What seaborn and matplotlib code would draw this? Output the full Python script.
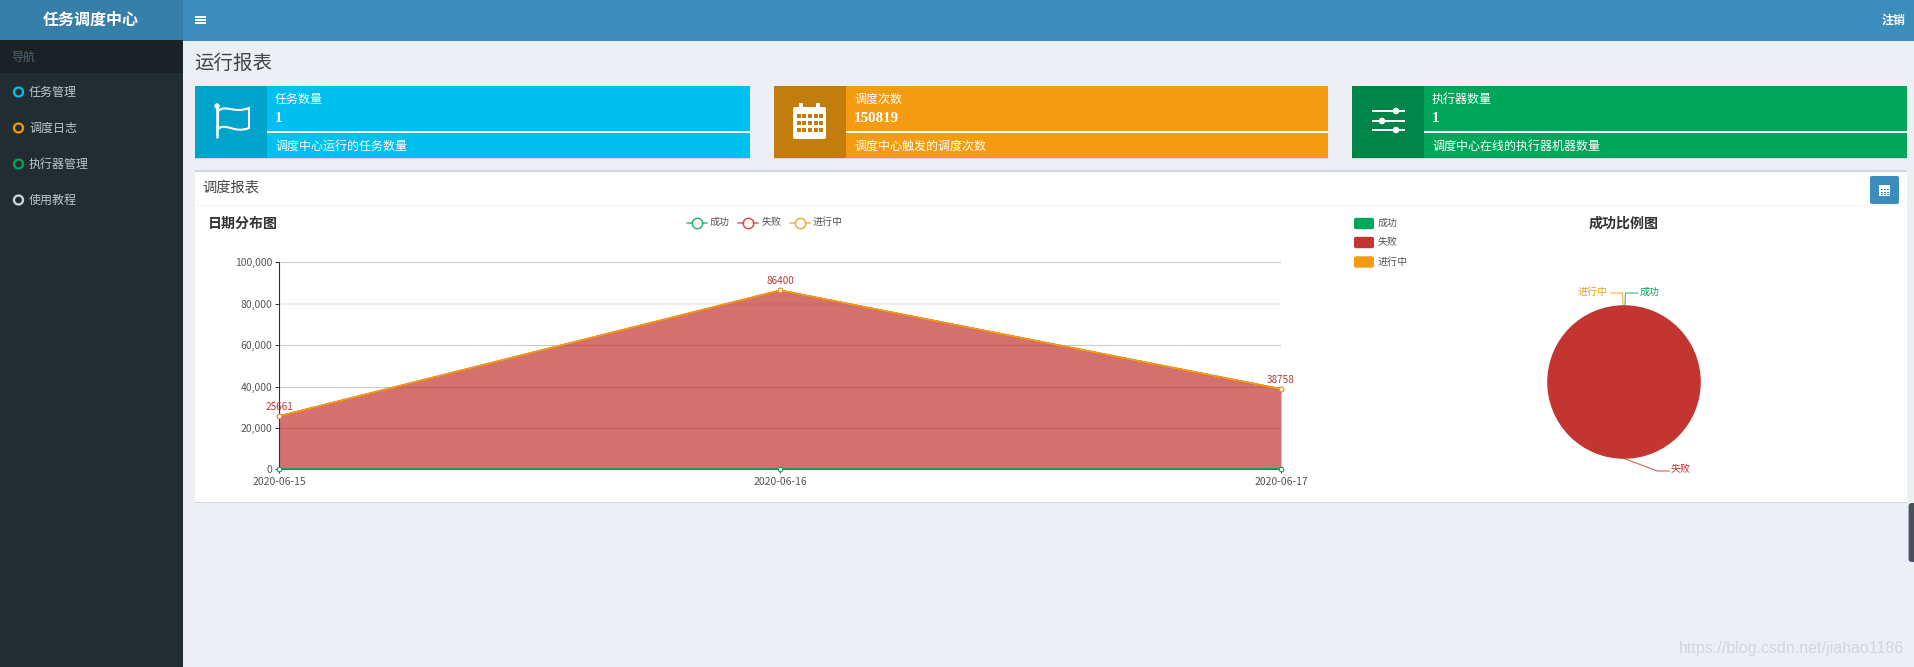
import pandas as pd
import numpy as np
import matplotlib.pyplot as plt
import seaborn as sns
from matplotlib.patches import Rectangle, FancyBboxPatch, Circle
from matplotlib.path import Path
from matplotlib.patches import PathPatch

# chart data
dates = ["2020-06-15", "2020-06-16", "2020-06-17"]
success_counts = [0, 0, 0]
fail_counts = [25661, 86400, 38758]
running_counts = [0, 0, 0]
series_names = ["成功", "失败", "进行中"]
series_colors = ["#00A65A", "#C23531", "#F39C12"]
y_ticks = [0, 20000, 40000, 60000, 80000, 100000]
pie_values = [0, 150819, 0]

# page text
logo_text = "任务调度中心"
nav_header = "导航"
nav_items = ["任务管理", "调度日志", "执行器管理", "使用教程"]
nav_colors = ["#00C0EF", "#F39C12", "#00A65A", "#D2D6DE"]
card_titles = ["任务数量", "调度次数", "执行器数量"]
card_values = ["1", "150819", "1"]
card_notes = ["调度中心运行的任务数量", "调度中心触发的调度次数", "调度中心在线的执行器机器数量"]
card_colors = ["#00C0EF", "#F39C12", "#00A65A"]
card_dark = ["#00A3CB", "#C27D0E", "#008548"]

W, H = 1914, 667
sns.set_theme(style="white")
plt.rcParams["font.family"] = ["Noto Sans CJK SC", "DejaVu Sans"]

fig = plt.figure(figsize=(W / 100, H / 100), dpi=100, facecolor="#ECF0F5")
page = fig.add_axes([0, 0, 1, 1])
page.set_xlim(0, W)
page.set_ylim(H, 0)
page.axis("off")


def box(x0, y0, x1, y1, color, **kw):
    page.add_patch(Rectangle((x0, y0), x1 - x0, y1 - y0, facecolor=color, edgecolor="none", **kw))


def rbox(x0, y0, x1, y1, color, r=2):
    page.add_patch(FancyBboxPatch((x0 + r, y0 + r), x1 - x0 - 2 * r, y1 - y0 - 2 * r,
                                  boxstyle=f"round,pad={r},rounding_size={r}",
                                  facecolor=color, edgecolor="none"))


def label(x, y, s, px, color, ha="left", **kw):
    page.text(x, y, s, fontsize=px * 0.72, color=color, ha=ha, va="center", **kw)


def axes_px(x0, y0, x1, y1):
    return fig.add_axes([x0 / W, 1 - y1 / H, (x1 - x0) / W, (y1 - y0) / H])


# top bar and sidebar
box(183, 0, W, 41, "#3C8DBC")
box(0, 0, 183, 40, "#367FA9")
box(0, 40, 183, H, "#222D32")
box(0, 40, 183, 73, "#1A2226")
label(91, 20, logo_text, 16, "white", ha="center", fontweight="bold")
label(11, 57, nav_header, 12, "#4B646F")
for k in range(3):
    box(195, 16 + k * 3.1, 206, 18 + k * 3.1, "white")
label(1906, 20, "注销", 12, "white", ha="right", fontweight="bold")
for k, (item, col) in enumerate(zip(nav_items, nav_colors)):
    yc = 92 + k * 36
    page.add_patch(Circle((18.5, yc), 4.5, facecolor="none", edgecolor=col, linewidth=1.6))
    label(29, yc, item, 12, "#B8C7CE")

label(194, 63, "运行报表", 19.5, "#444444")

# info cards
card_x = [(195, 267, 750), (774, 846, 1328), (1352, 1424, 1907)]
for k, (x0, xm, x1) in enumerate(card_x):
    box(x0, 86, x1, 159, "#D2D6DE")
    box(x0, 86, x1, 158, card_colors[k])
    box(x0, 86, xm, 158, card_dark[k])
    box(xm, 131, x1, 133, "white")
    label(xm + 8, 99, card_titles[k], 12, "white")
    label(xm + 8, 118, card_values[k], 15, "white", fontweight="bold", family="Liberation Serif")
    label(xm + 8, 146, card_notes[k], 12, "white")

# flag icon
page.plot([217, 217], [107, 137], color="white", lw=1.8, solid_capstyle="round")
page.add_patch(Circle((217, 106), 2, color="white"))
flag = Path([(218, 111), (226, 104), (234, 114), (249, 108), (249, 108), (249, 128), (249, 128),
             (234, 134), (226, 122), (218, 129), (218, 111)],
            [Path.MOVETO, Path.CURVE4, Path.CURVE4, Path.CURVE4, Path.LINETO, Path.LINETO, Path.LINETO,
             Path.CURVE4, Path.CURVE4, Path.CURVE4, Path.LINETO])
page.add_patch(PathPatch(flag, facecolor="none", edgecolor="white", lw=1.5))

# calendar icon
rbox(793, 107, 826, 139, "white", r=2)
for cx in (801, 818):
    rbox(cx - 2, 103, cx + 2, 110, "white", r=1)
for cx in (796.5, 802.2, 807.9, 813.6, 819.3):
    for cy in (116, 123, 130):
        box(cx, cy - 2.4, cx + 4, cy + 2.4, "#C27D0E")

# slider icon
for sy, sx in zip((111, 121, 130), (1396, 1382, 1396)):
    box(1372, sy - 1, 1405, sy + 1, "white")
    page.add_patch(Circle((sx, sy), 2.6, color="white"))

# report panel
box(195, 170, 1907, 503, "#D2D6DE")
box(195, 172, 1907, 502, "white")
box(195, 205, 1907, 206, "#F4F4F4")
label(202, 188, "调度报表", 14.3, "#444444")
rbox(1870, 176, 1899, 204, "#3C8DBC", r=2)
box(1879, 185, 1890, 196, "white")
for cx in (1881, 1884.2, 1887.4):
    for cy in (188.5, 191.5, 194):
        box(cx, cy, cx + 1.8, cy + 1.4, "#3C8DBC")

label(208, 224, "日期分布图", 14, "#333333", fontweight="bold")
label(1624, 224, "成功比例图", 14, "#333333", ha="center", fontweight="bold")

# line chart legend
for name, col, lx, tx in zip(series_names, series_colors, (697, 748, 800), (710, 762, 813)):
    page.plot([lx - 10, lx + 10], [223, 223], color=col, lw=1.2, alpha=0.7)
    page.plot([lx], [223], "o", ms=7.5, mfc="white", mec=col, mew=1.1, alpha=0.85)
    label(tx, 222, name, 10, "#555555")

# pie legend
for name, col, yc in zip(series_names, series_colors, (223.5, 242.5, 262)):
    rbox(1354, yc - 5.7, 1374, yc + 5.7, col, r=2)
    label(1378, yc - 0.5, name, 10, "#555555")

# stacked line chart
chart = axes_px(279.3, 262.3, 1281, 469.3)
chart.patch.set_alpha(0)
base = np.zeros(len(dates))
rows = []
for name, values in zip(series_names, (success_counts, fail_counts, running_counts)):
    top = base + np.array(values)
    rows.append(pd.DataFrame({"date": dates, "series": name, "base": base, "top": top}))
    base = top
df = pd.concat(rows)

for name, col in zip(series_names, series_colors):
    part = df[df["series"] == name]
    chart.fill_between(range(len(dates)), part["base"], part["top"], color=col, alpha=0.7, lw=0)
    sns.lineplot(data=part, x="date", y="top", color=col, lw=1.3, marker="o", ms=3.2, mfc="white",
                 mec=col, mew=0.8, clip_on=False, zorder=4, ax=chart, legend=False, errorbar=None)

fail_top = df[df["series"] == "失败"]["top"].values
for i, v in enumerate(fail_top):
    chart.annotate(str(fail_counts[i]), (i, v), xytext=(0, 6.5), textcoords="offset points",
                   ha="center", va="center", fontsize=7.2, color="#C23531",
                   annotation_clip=False, zorder=6)

chart.set_xlim(0, len(dates) - 1)
chart.set_ylim(0, y_ticks[-1])
chart.set_yticks(y_ticks)
chart.set_yticklabels([f"{v:,}" for v in y_ticks])
chart.set_xlabel("")
chart.set_ylabel("")
chart.yaxis.grid(True, color="#CCCCCC", lw=0.8)
chart.set_axisbelow(True)
chart.get_ygridlines()[4].set_color("#EEEEEE")
chart.get_ygridlines()[4].set_linewidth(1.6)
chart.tick_params(axis="both", length=3.2, width=0.7, color="#333333", labelsize=7.5,
                  labelcolor="#555555", pad=2, bottom=True, left=True)
sns.despine(ax=chart, top=True, right=True)
chart.spines["left"].set_color("#333333")
chart.spines["left"].set_linewidth(0.8)
chart.spines["bottom"].set_color("#333333")
chart.spines["bottom"].set_linewidth(0.8)

# pie chart
r = 76.8
pie_ax = axes_px(1624 - r, 382 - r, 1624 + r, 382 + r)
pie_ax.pie(pie_values, colors=series_colors, startangle=90, counterclock=False, radius=1,
           wedgeprops={"linewidth": 0})
pie_ax.set_xlim(-1, 1)
pie_ax.set_ylim(-1, 1)

page.plot([1625, 1625.5, 1638], [305, 293, 293], color=series_colors[0], lw=0.9, alpha=0.7)
page.plot([1623, 1622.5, 1611], [305, 293, 293], color=series_colors[2], lw=0.9, alpha=0.7)
page.plot([1624, 1657.5, 1669.5], [458.5, 471, 471], color=series_colors[1], lw=0.9, alpha=0.7)
label(1640, 292, series_names[0], 10, series_colors[0])
label(1608, 292, series_names[2], 10, series_colors[2], ha="right")
label(1671, 469.5, series_names[1], 10, series_colors[1])

# right edge tab and watermark
rbox(1908.6, 503, 1922, 562, "#4A5060", r=3)
page.text(1904, 648, "https://blog.csdn.net/jiahao1186", fontsize=11.5, color="#D3D6DB",
          ha="right", va="center", family="Liberation Sans")

fig.savefig("out.png", dpi=100, facecolor=fig.get_facecolor())
